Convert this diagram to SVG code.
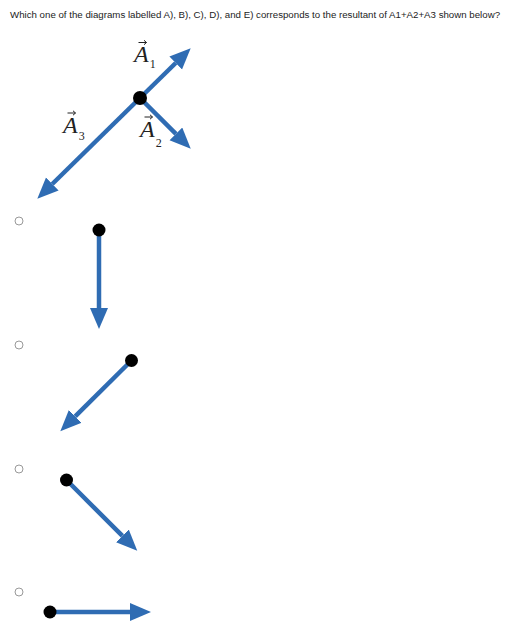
<svg xmlns="http://www.w3.org/2000/svg" width="518" height="638" viewBox="0 0 518 638">
<style>
.q{font-family:"Liberation Sans",Arial,sans-serif;font-size:9.7px;fill:#222}
.v{stroke:#2f6cb3;stroke-width:4.5;fill:none}
.dot{fill:#000}
.radio{fill:#fff;stroke:#999;stroke-width:1}
.lab{font-family:"Liberation Serif","Times New Roman",serif;font-style:italic;font-size:24px;fill:#222}
.sub{font-family:"Liberation Serif","Times New Roman",serif;font-style:normal;font-size:12px}
.acc{stroke:#222;stroke-width:1;fill:none}
</style>
<defs>
<marker id="ah" markerUnits="userSpaceOnUse" markerWidth="24" markerHeight="20" refX="0" refY="9" orient="auto" viewBox="0 0 24 20">
<path d="M0,0 L21,9 L0,18 z" fill="#2f6cb3"/>
</marker>
<path id="vec" d="M0,0 H8 M5.5,-2.2 L8,0 L5.5,2.2"/>
</defs>
<rect width="518" height="638" fill="#fff"/>
<text class="q" x="10" y="18">Which one of the diagrams labelled A), B), C), D), and E) corresponds to the resultant of A1+A2+A3 shown below?</text>

<g id="connectors">
<line class="v" x1="140" y1="98" x2="175.7" y2="63" marker-end="url(#ah)"/>
<line class="v" x1="140" y1="98" x2="175.9" y2="133.9" marker-end="url(#ah)"/>
<line class="v" x1="140" y1="98" x2="52.3" y2="184" marker-end="url(#ah)"/>
<line class="v" x1="99" y1="230" x2="99" y2="308" marker-end="url(#ah)"/>
<line class="v" x1="131.5" y1="360.5" x2="75.2" y2="416.4" marker-end="url(#ah)"/>
<line class="v" x1="66.5" y1="480" x2="122.4" y2="535.9" marker-end="url(#ah)"/>
<line class="v" x1="50" y1="612" x2="130" y2="612" marker-end="url(#ah)"/>
</g>

<g id="origin"><circle class="dot" cx="140" cy="98" r="7"/></g>
<g id="labelA1"><use href="#vec" class="acc" x="138.5" y="42.5"/><text class="lab" x="134" y="62">A<tspan class="sub" dx="1" dy="6">1</tspan></text></g>
<g id="labelA2"><use href="#vec" class="acc" x="144.5" y="117"/><text class="lab" x="140" y="137">A<tspan class="sub" dx="1" dy="10">2</tspan></text></g>
<g id="labelA3"><use href="#vec" class="acc" x="67.5" y="113"/><text class="lab" x="63" y="133">A<tspan class="sub" dx="1" dy="7">3</tspan></text></g>

<g id="optionA"><circle class="radio" cx="19" cy="221" r="4"/><circle class="dot" cx="99" cy="230" r="6.5"/></g>
<g id="optionB"><circle class="radio" cx="19" cy="345" r="4"/><circle class="dot" cx="131.5" cy="360.5" r="6.5"/></g>
<g id="optionC"><circle class="radio" cx="19" cy="469" r="4"/><circle class="dot" cx="66.5" cy="480" r="6.5"/></g>
<g id="optionD"><circle class="radio" cx="19" cy="592" r="4"/><circle class="dot" cx="50" cy="612" r="6.5"/></g>
</svg>
